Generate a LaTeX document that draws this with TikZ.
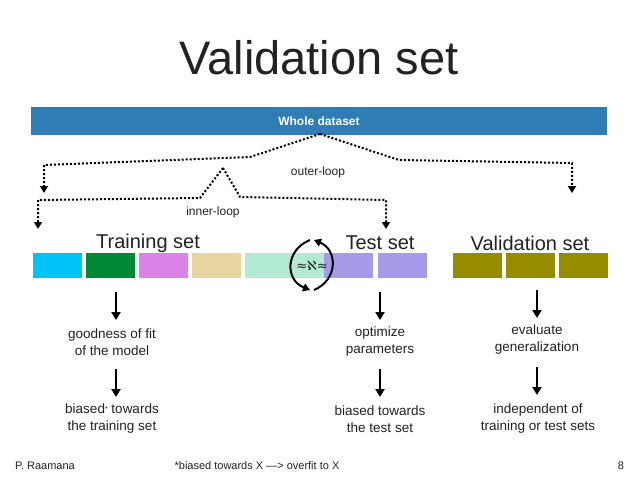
\documentclass[tikz,border=0pt]{standalone}
\usepackage{fontspec}
\setmainfont{Liberation Sans}
\newfontfamily\djv{DejaVu Sans}
\usetikzlibrary{arrows.meta}
\definecolor{bar}{HTML}{2F7DB4}
\definecolor{txt}{HTML}{222222}
\tikzset{
 blk/.style={minimum width=49pt,minimum height=25pt,inner sep=0pt,anchor=north west},
 loopline/.style={line width=2pt,dotted,-{Triangle[width=8pt,length=7pt]}},
 down/.style={line width=2pt,-{Triangle[width=9pt,length=8pt]}},
 lab/.style={text=txt,font=\fontsize{12}{14}\selectfont},
 desc/.style={text=txt,font=\fontsize{13.5}{17}\selectfont,align=center},
 head/.style={text=txt,font=\fontsize{20}{22}\selectfont},
}
\begin{document}
\begin{tikzpicture}[x=1pt,y=-1pt]
\useasboundingbox (0,0) rectangle (638,479);
\node[text=txt,font=\fontsize{47}{50}\selectfont] (title) at (319,58) {Validation set};
\node[fill=bar,minimum width=576pt,minimum height=28pt,inner sep=0pt,text=white,font=\bfseries\fontsize{12}{14}\selectfont] (whole) at (319,121) {Whole dataset};
% loops
\coordinate (oa) at (320,134);
\draw[loopline] (oa) -- (250,157) -- (44,165) -- (44,193);
\draw[loopline] (oa) -- (399,160) -- (572,163) -- (572,193);
\coordinate (ia) at (223,168);
\draw[loopline] (ia) -- (200,198) -- (38,200) -- (38,229);
\draw[loopline] (ia) -- (240,197) -- (386,200) -- (386,229);
\node[lab] (outer) at (318,172) {outer-loop};
\node[lab] (inner) at (213,212) {inner-loop};
% headers
\node[head] (tr) at (148,243) {Training set};
\node[head] (te) at (380,243) {Test set};
\node[head] (va) at (530,243) {Validation set};
% blocks
\node[blk,fill={rgb,255:red,0;green,196;blue,245}] (b1) at (33,253) {};
\node[blk,fill={rgb,255:red,0;green,136;blue,52}] (b2) at (86,253) {};
\node[blk,fill={rgb,255:red,218;green,130;blue,232}] (b3) at (139,253) {};
\node[blk,fill={rgb,255:red,232;green,212;blue,160}] (b4) at (192,253) {};
\node[blk,fill={rgb,255:red,178;green,234;blue,212}] (b5) at (245,253) {};
\node[blk,fill={rgb,255:red,165;green,155;blue,232}] (t1) at (324,253) {};
\node[blk,fill={rgb,255:red,165;green,155;blue,232}] (t2) at (378,253) {};
\node[blk,fill={rgb,255:red,150;green,140;blue,0}] (v1) at (453,253) {};
\node[blk,fill={rgb,255:red,150;green,140;blue,0}] (v2) at (506,253) {};
\node[blk,fill={rgb,255:red,150;green,140;blue,0}] (v3) at (559,253) {};
\fill[fill={rgb,255:red,178;green,234;blue,212}] (294,253) rectangle (324,278);
% cycle
\node[font=\djv\fontsize{13}{14}\selectfont,text=txt,inner sep=0pt] (cyc) at (312,266) {≈ℵ≈};
\draw[line width=2pt,-{Triangle[width=8pt,length=7pt]}] (310,240) .. controls (285,250) and (285,280) .. (310,290);
\draw[line width=2pt,-{Triangle[width=8pt,length=7pt]}] (314,290) .. controls (338,280) and (338,250) .. (314,240);
% lower
\coordinate (a1) at (116,292); \coordinate (a1e) at (116,320);
\coordinate (a2) at (380,292); \coordinate (a2e) at (380,320);
\coordinate (a3) at (537,290); \coordinate (a3e) at (537,318);
\draw[down] (a1) -- (a1e); \draw[down] (a2) -- (a2e); \draw[down] (a3) -- (a3e);
\node[desc] (d1) at (112,342) {goodness of fit\\of the model};
\node[desc] (d2) at (380,342) {optimize\\parameters};
\node[desc] (d3) at (537,340) {evaluate\\generalization};
\coordinate (c1) at (116,369); \coordinate (c1e) at (116,397);
\coordinate (c2) at (380,369); \coordinate (c2e) at (380,397);
\coordinate (c3) at (537,367); \coordinate (c3e) at (537,395);
\draw[down] (c1) -- (c1e); \draw[down] (c2) -- (c2e); \draw[down] (c3) -- (c3e);
\node[desc] (e1) at (112,419) {biased{\fontsize{7}{8}\selectfont\raisebox{2pt}{*}} towards\\the training set};
\node[desc] (e2) at (380,419) {biased towards\\the test set};
\node[desc] (e3) at (538,419) {independent of\\training or test sets};
% footer
\node[text=txt,font=\fontsize{11}{13}\selectfont] (f1) at (45,466) {P. Raamana};
\node[text=txt,font=\fontsize{11}{13}\selectfont] (f2) at (257,466) {*biased towards X —> overfit to X};
\node[text=txt,font=\fontsize{11}{13}\selectfont] (f3) at (621,466) {8};
\end{tikzpicture}
\end{document}
